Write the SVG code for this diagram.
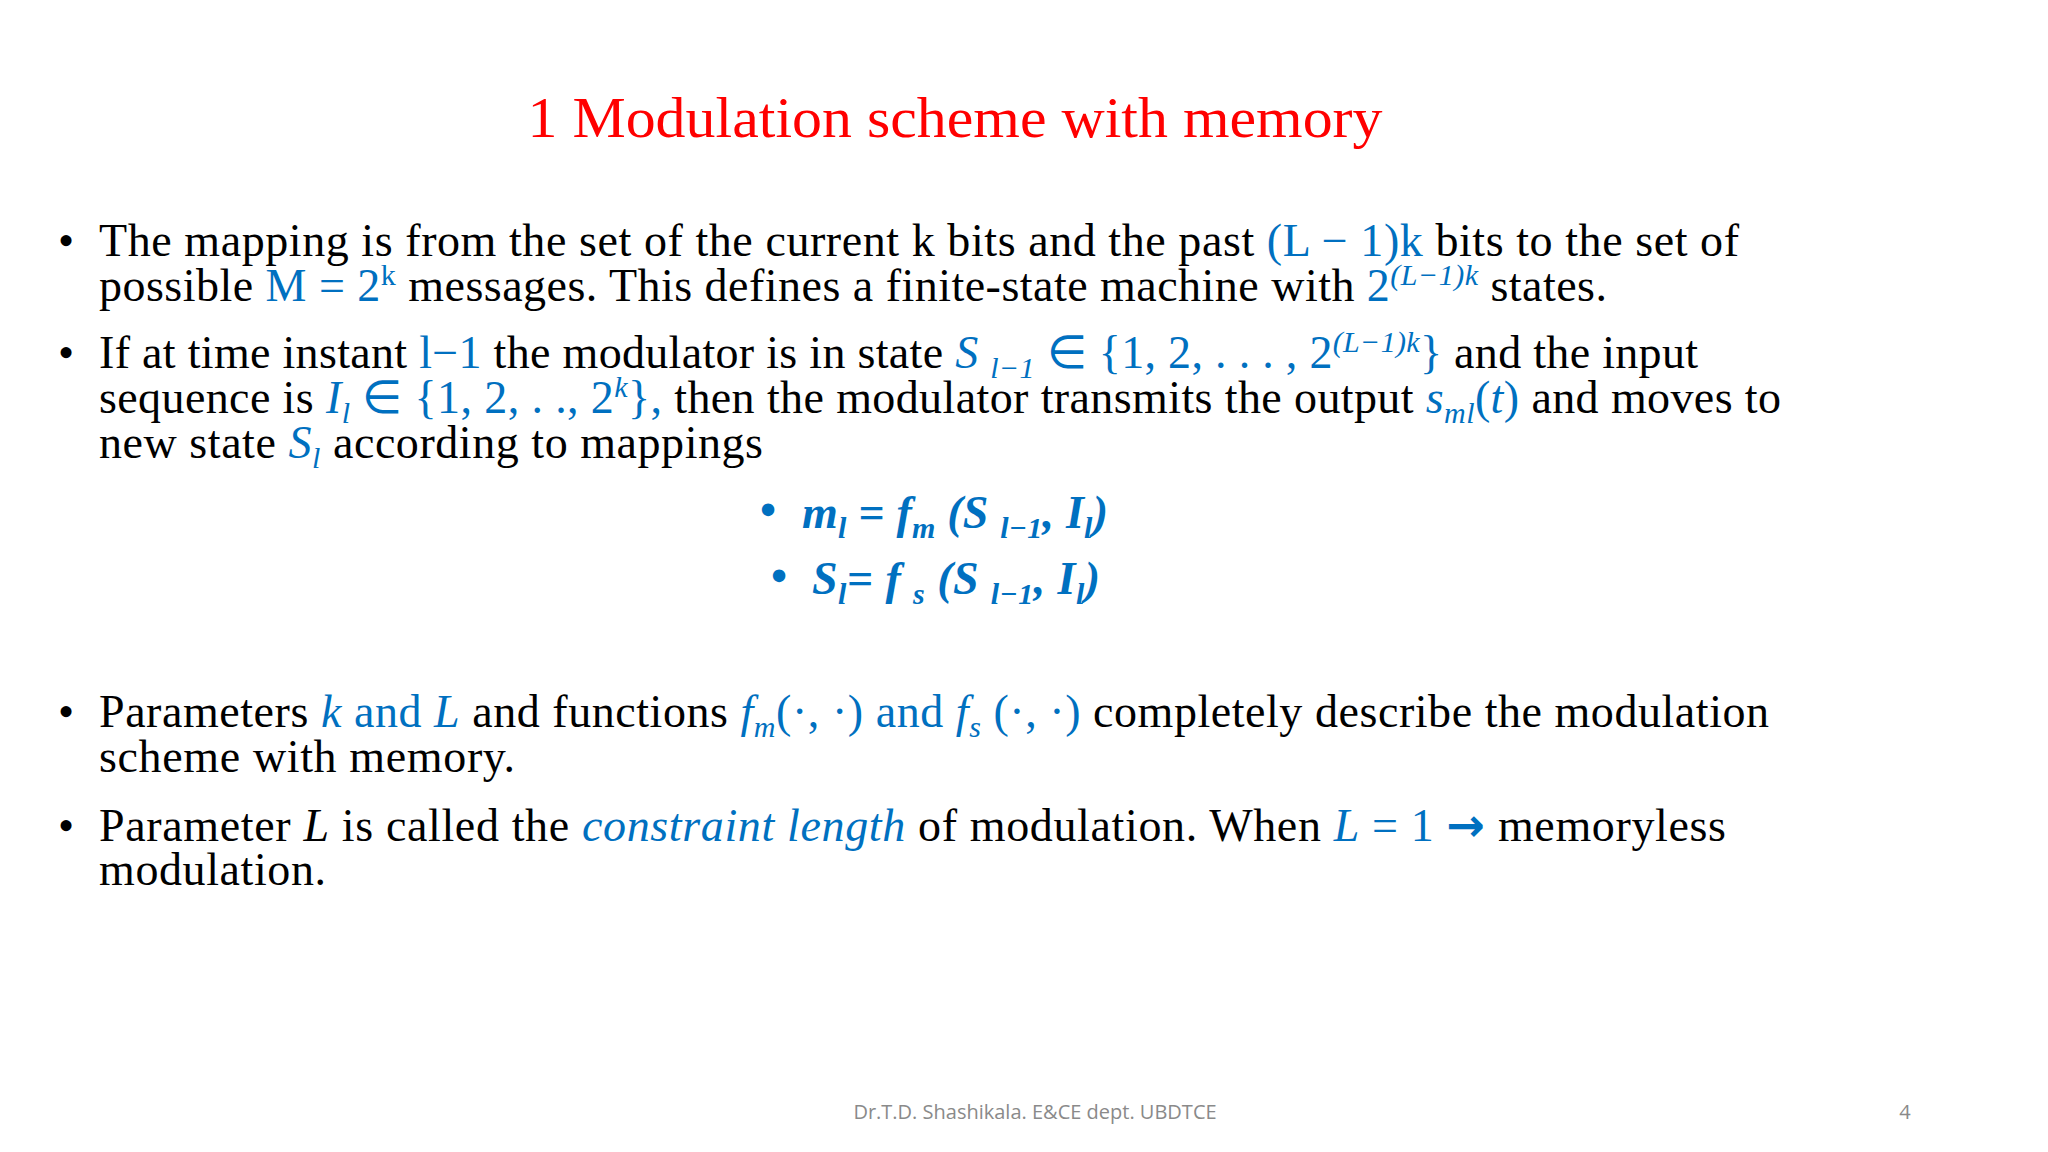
<svg xmlns="http://www.w3.org/2000/svg" width="2048" height="1152" viewBox="0 0 2048 1152">
<style>
text{font-family:"Liberation Serif","Times New Roman",serif;fill:#000}
.b{font-size:46px}
.c{fill:#0070C0}
.i{font-style:italic}
.s{font-size:30px}
.f{font-weight:bold;font-style:italic;fill:#0070C0;font-size:46px}
.fb{font-size:46px;font-weight:bold;fill:#0070C0}
.foot{font-family:"Open Sans","Liberation Sans",sans-serif;font-size:20px;fill:#8a8a8a}
</style>
<rect width="2048" height="1152" fill="#fff"/>
<g id="title"><text x="955" y="137" text-anchor="middle" font-size="58" textLength="855" lengthAdjust="spacingAndGlyphs" style="fill:#FF0000">1 Modulation scheme with memory</text></g>
<g id="bullet1">
<text class="b" x="58" y="256">•</text>
<text class="b" x="99" y="256" textLength="1640" lengthAdjust="spacing">The mapping is from the set of the current k bits and the past <tspan class="c">(L − 1)k</tspan> bits to the set of</text>
<text class="b" x="99" y="301" textLength="1508" lengthAdjust="spacing">possible <tspan class="c">M = 2</tspan><tspan class="c s" dy="-16">k</tspan><tspan dy="16"> messages. This defines a finite-state machine with </tspan><tspan class="c">2</tspan><tspan class="c s i" dy="-16">(L−1)k</tspan><tspan dy="16"> states.</tspan></text>
</g>
<g id="bullet2">
<text class="b" x="58" y="368">•</text>
<text class="b" x="99" y="368" textLength="1599" lengthAdjust="spacing">If at time instant <tspan class="c">l−1</tspan> the modulator is in state <tspan class="c i">S </tspan><tspan class="c i s" dy="10">l−1</tspan><tspan class="c" dy="-10"> ∈ {1, 2, . . . , 2</tspan><tspan class="c i s" dy="-16">(L−1)k</tspan><tspan class="c" dy="16">}</tspan> and the input</text>
<text class="b" x="99" y="413" textLength="1682" lengthAdjust="spacing">sequence is <tspan class="c i">I</tspan><tspan class="c i s" dy="10">l</tspan><tspan class="c" dy="-10"> ∈ {1, 2, . ., 2</tspan><tspan class="c i s" dy="-16">k</tspan><tspan class="c" dy="16">},</tspan> then the modulator transmits the output <tspan class="c i">s</tspan><tspan class="c i s" dy="10">ml</tspan><tspan class="c" dy="-10">(</tspan><tspan class="c i">t</tspan><tspan class="c">)</tspan> and moves to</text>
<text class="b" x="99" y="458" textLength="664" lengthAdjust="spacing">new state <tspan class="c i">S</tspan><tspan class="c i s" dy="10">l</tspan><tspan dy="-10"> according to mappings</tspan></text>
</g>
<g id="formula1">
<text class="fb" x="760" y="525">•</text>
<text class="f" x="802" y="528" textLength="306" lengthAdjust="spacing">m<tspan class="s" dy="10">l</tspan><tspan dy="-10"> = f</tspan><tspan class="s" dy="10">m</tspan><tspan dy="-10"> (S </tspan><tspan class="s" dy="10">l−1</tspan><tspan dy="-10">, I</tspan><tspan class="s" dy="10">l</tspan><tspan dy="-10">)</tspan></text>
</g>
<g id="formula2">
<text class="fb" x="771" y="591">•</text>
<text class="f" x="812" y="594" textLength="288" lengthAdjust="spacing">S<tspan class="s" dy="10">l</tspan><tspan dy="-10">= f </tspan><tspan class="s" dy="10">s</tspan><tspan dy="-10"> (S </tspan><tspan class="s" dy="10">l−1</tspan><tspan dy="-10">, I</tspan><tspan class="s" dy="10">l</tspan><tspan dy="-10">)</tspan></text>
</g>
<g id="bullet3">
<text class="b" x="58" y="727">•</text>
<text class="b" x="99" y="727" textLength="1670" lengthAdjust="spacing">Parameters <tspan class="c i">k</tspan><tspan class="c"> and </tspan><tspan class="c i">L</tspan> and functions <tspan class="c i">f</tspan><tspan class="c i s" dy="10">m</tspan><tspan class="c" dy="-10">(·, ·) and </tspan><tspan class="c i">f</tspan><tspan class="c i s" dy="10">s</tspan><tspan class="c" dy="-10"> (·, ·)</tspan> completely describe the modulation</text>
<text class="b" x="99" y="772" textLength="416" lengthAdjust="spacing">scheme with memory.</text>
</g>
<g id="bullet4">
<text class="b" x="58" y="841">•</text>
<text class="b" x="99" y="841" textLength="1627" lengthAdjust="spacing">Parameter <tspan class="i">L</tspan> is called the <tspan class="c i">constraint length</tspan> of modulation. When <tspan class="c i">L</tspan><tspan class="c"> = 1 </tspan><tspan class="c" font-weight="bold" style="font-family:'DejaVu Sans',sans-serif">→</tspan> memoryless</text>
<text class="b" x="99" y="885" textLength="227" lengthAdjust="spacing">modulation.</text>
</g>
<g id="footer">
<text class="foot" x="1035" y="1119" text-anchor="middle">Dr.T.D. Shashikala. E&amp;CE dept. UBDTCE</text>
<text class="foot" x="1905" y="1119" text-anchor="middle">4</text>
</g>
</svg>
